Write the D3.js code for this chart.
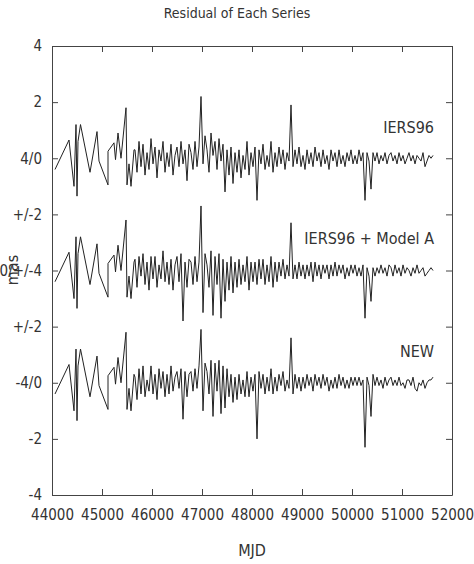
<!DOCTYPE html>
<html><head><meta charset="utf-8">
<script src="https://cdn.jsdelivr.net/npm/d3@7"></script>
<style>
body{margin:0;background:#fff;}
text{font-family:"DejaVu Sans Condensed","Liberation Sans Narrow",sans-serif;font-stretch:condensed;fill:#333;}
</style></head>
<body><div id="chart"></div>
<script>
var width = 474, height = 564;
var margin = {top:46, right:22, bottom:69, left:52};

// y tick values (stacked panels, 4 mas apart) and their printed labels
var yTicks = [-8,-6,-4,-2,0,2,4,6,8];
var yTickLabels = ["-4","-2","-4/0","+/-2","0/+/-4","+/-2","4/0","2","4"];
var xTicks = [44000,45000,46000,47000,48000,49000,50000,51000,52000];

var seriesNames = ["IERS96", "IERS96 + Model A", "NEW"];
var seriesOffsets = [4, 0, -4];

// sparse early part (same in all three series)
var earlyMjd = [44060,44340,44440,44480,44500,44520,44570,44760,44900,44940,45120,45120,45240,45270,45320,45380,45480,45500,45540,45580,45640];
var earlyRes = [-0.4,0.65,-1.0,1.2,-1.35,0.6,1.2,-0.5,0.95,-0.1,-0.95,0.25,0.55,-0.05,0.9,0,1.8,-0.95,-0.2,-1.0,0.3];

// dense part: one value every 40 days from MJD 45660
var denseStart = 45660, denseStep = 40;
var resIERS96 = [
0.3,-0.5,0.6,-0.3,0.5,-0.6,0.2,-0.4,0.7,-0.2,
0.4,-0.7,0.3,-0.1,0.6,-0.5,0.2,-0.3,0.5,-0.6,
0.1,0.4,-0.3,0.6,-0.2,0.3,-0.8,0.5,0.2,-0.4,
0.6,-0.3,0.4,2.2,-0.2,0.8,0.3,-0.5,0.9,0.1,
0.6,-0.4,0.7,-0.1,0.5,-1.2,0.3,-0.6,0.4,-0.9,
0.2,-0.5,0.3,-0.7,0.1,-0.4,0.6,-0.6,0.2,-0.3,
0.4,-1.5,0.3,-0.2,0.5,-0.4,0.1,-0.3,0.6,-0.5,
0.2,-0.3,0.4,-0.2,0.3,-0.4,0.2,-0.1,1.9,-0.3,
0.3,-0.2,0.4,-0.3,0.1,-0.4,0.3,-0.2,0.2,-0.3,
0.4,-0.1,0.2,-0.3,0.3,-0.2,0.1,-0.4,0.3,-0.1,
0.2,-0.3,0.3,-0.2,0.1,-0.3,0.2,-0.1,0.3,-0.2,
0.1,-0.2,0.3,-0.1,0.2,-1.5,0.2,-0.1,-1.1,0.2,
-0.1,0.2,-0.2,0.1,-0.1,0.2,-0.2,0.1,0.2,-0.1,
0.1,-0.2,0.2,-0.1,0.1,-0.2,0.0,0.2,-0.1,0.1,
-0.2,0.1,0.0,-0.1,0.2,-0.3,-0.1,0.1,0.0,0.1];
var resModelA = [
0.4,-0.6,0.5,-0.2,0.6,-0.5,0.3,-0.7,0.5,-0.3,
0.5,-0.6,0.2,-0.3,0.7,-0.4,0.3,-0.5,0.4,-0.7,
0.2,0.5,-0.4,0.6,-1.8,0.3,-0.6,0.4,0.3,-0.5,
0.5,-0.4,0.3,2.3,-1.5,0.6,0.2,-0.6,0.7,-1.6,
0.5,-0.5,0.6,-1.7,0.4,-1.1,0.3,-0.7,0.5,-0.8,
0.3,-0.6,0.4,-0.5,0.2,-0.4,0.5,-0.7,0.3,-0.4,
0.3,-0.5,0.4,-0.3,0.4,-0.5,0.2,-0.4,0.5,-0.6,
0.3,-0.4,0.3,-0.2,0.4,-0.3,0.2,-0.2,1.7,-0.3,
0.2,-0.3,0.3,-0.2,0.2,-0.3,0.2,-0.2,0.3,-0.4,
0.3,-0.2,0.2,-0.3,0.2,-0.1,0.2,-0.3,0.2,-0.2,
0.3,-0.2,0.2,-0.1,0.2,-0.3,0.1,-0.2,0.2,-0.1,
0.2,-0.2,0.1,-0.2,0.2,-1.7,0.1,-0.2,-1.1,0.1,
-0.2,0.1,-0.1,0.2,-0.1,0.1,-0.2,0.2,0.1,-0.2,
0.2,-0.1,0.1,-0.2,0.2,-0.1,0.1,0.0,-0.2,0.1,
-0.1,0.2,-0.1,0.0,0.1,-0.2,-0.1,0.0,0.1,0.0];
var resNEW = [
0.2,-0.6,0.5,-0.4,0.6,-0.5,0.1,-0.3,0.6,-0.4,
0.3,-0.6,0.5,-0.2,0.4,-0.5,0.3,-0.4,0.6,-0.3,
0.2,0.4,-0.2,0.5,-1.3,0.4,-0.5,0.3,0.4,-0.3,
0.5,-0.2,0.6,1.9,-1.0,0.7,0.4,-0.4,0.8,-1.2,
0.7,-0.3,0.8,-1.1,0.6,-0.9,0.5,-0.5,0.3,-0.7,
0.2,-0.6,0.3,-0.4,0.1,-0.5,0.4,-0.5,0.2,-0.3,
0.3,-2.0,0.4,-0.2,0.3,-0.4,0.2,-0.3,0.5,-0.4,
0.2,-0.3,0.3,-0.1,0.4,-0.3,0.1,-0.2,1.6,-0.4,
0.3,-0.2,0.2,-0.3,0.2,-0.2,0.3,-0.1,0.2,-0.3,
0.3,-0.1,0.2,-0.2,0.3,-0.1,0.2,-0.3,0.1,-0.2,
0.2,-0.2,0.3,-0.1,0.2,-0.2,0.1,-0.2,0.2,-0.1,
0.2,-0.1,0.2,-0.1,0.1,-2.3,0.2,-0.1,-1.2,0.3,
-0.1,0.2,-0.1,0.1,-0.2,0.2,-0.1,0.1,0.2,-0.1,
0.1,-0.1,0.2,-0.1,0.0,-0.2,0.1,0.1,-0.1,0.2,
-0.2,-0.3,0.0,-0.1,0.1,-0.2,0.0,0.1,0.1,0.2];
var denseSeries = [resIERS96, resModelA, resNEW];

var x = d3.scaleLinear().domain([44000,52000]).range([margin.left, width-margin.right]);
var y = d3.scaleLinear().domain([-8,8]).range([height-margin.bottom, margin.top]);

var svg = d3.select("#chart").append("svg").attr("width", width).attr("height", height);

// axes with inward ticks on all sides
svg.append("g").attr("transform","translate(0,"+y(-8)+")")
    .call(d3.axisBottom(x).tickValues(xTicks).tickSizeInner(-6).tickSizeOuter(0).tickPadding(14).tickFormat(d3.format("d")));
svg.append("g").attr("transform","translate(0,"+y(8)+")")
    .call(d3.axisTop(x).tickValues(xTicks).tickSizeInner(-6).tickSizeOuter(0).tickFormat(""));
svg.append("g").attr("transform","translate("+x(44000)+",0)")
    .call(d3.axisLeft(y).tickValues(yTicks).tickSizeInner(-6).tickSizeOuter(0).tickPadding(10)
        .tickFormat(function(d,i){ return yTickLabels[i]; }));
svg.append("g").attr("transform","translate("+x(52000)+",0)")
    .call(d3.axisRight(y).tickValues(yTicks).tickSizeInner(-6).tickSizeOuter(0).tickFormat(""));
svg.selectAll(".domain, .tick line").attr("stroke","#444");
svg.selectAll(".tick text").style("font-size","15px").attr("fill","#333");

var line = d3.line().x(function(d){ return x(d[0]); }).y(function(d){ return y(d[1]); });

denseSeries.forEach(function(vals, s){
    var off = seriesOffsets[s];
    var pts = earlyMjd.map(function(m,i){ return [m, earlyRes[i]+off]; });
    vals.forEach(function(v,i){ pts.push([denseStart+denseStep*i, v+off]); });
    svg.append("path").datum(pts).attr("d", line)
        .attr("fill","none").attr("stroke","#222").attr("stroke-width",1);
});

var labelY = [133, 244, 357];
seriesNames.forEach(function(n,i){
    svg.append("text").attr("x", 434).attr("y", labelY[i]).attr("text-anchor","end")
        .style("font-size","16px").text(n);
});

svg.append("text").attr("x", width/2).attr("y", 18).attr("text-anchor","middle")
    .style("font-size","14px").text("Residual of Each Series");
svg.append("text").attr("x", (x(44000)+x(52000))/2).attr("y", 556).attr("text-anchor","middle")
    .style("font-size","16px").text("MJD");
svg.append("text").attr("transform","translate(18,270) rotate(-90)").attr("text-anchor","middle")
    .style("font-size","16px").text("mas");
</script>
</body></html>
